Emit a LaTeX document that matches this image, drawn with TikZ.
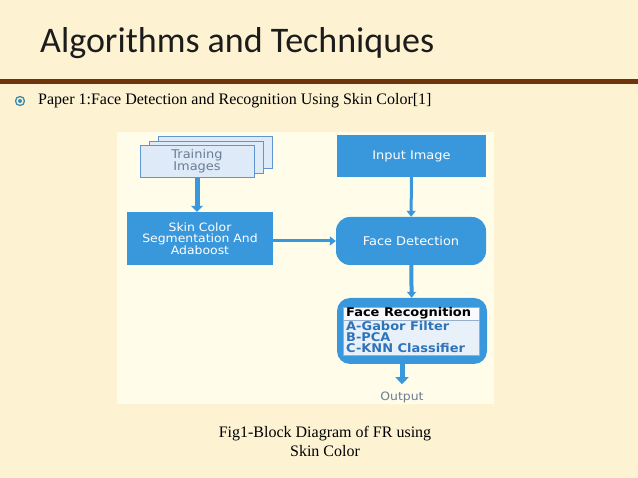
\documentclass[tikz,border=0pt]{standalone}
\usepackage{fontspec}
\setmainfont{Liberation Serif}
\newfontfamily\titlefont{Carlito}
\newfontfamily\diafont[FakeStretch=1.08]{DejaVu Sans}
\usepackage{tikz}
\usetikzlibrary{arrows.meta,positioning,calc}
\definecolor{slidebg}{RGB}{253,242,210}
\definecolor{panelbg}{RGB}{255,253,234}
\definecolor{boxblue}{RGB}{57,151,219}
\definecolor{pagefill}{RGB}{222,234,248}
\definecolor{pageline}{RGB}{95,150,210}
\definecolor{pagetext}{RGB}{105,125,150}
\definecolor{brownline}{RGB}{112,52,12}
\definecolor{titletext}{RGB}{28,28,28}
\definecolor{bulletc}{RGB}{60,140,175}
\definecolor{listblue}{RGB}{45,115,185}
\definecolor{innerfill}{RGB}{232,240,250}
\definecolor{innerline}{RGB}{150,175,205}

\begin{document}
\begin{tikzpicture}[x=1pt, y=-1pt]
\tikzstyle{box} = [rectangle, minimum width=150pt, minimum height=42pt, text centered, align=center, fill=boxblue, text=white, inner sep=0pt, font=\diafont\fontsize{12}{11}\selectfont]
\tikzstyle{page} = [rectangle, minimum width=114pt, minimum height=32pt, draw=pageline, fill=pagefill, line width=0.8pt, inner sep=0pt]
\tikzstyle{arrow} = [boxblue, line width=3pt, -{Triangle[width=9pt,length=6pt]}]

% slide and diagram panel
\fill[slidebg] (0,0) rectangle (638,478);
\useasboundingbox (0,0) rectangle (638,478);
\fill[brownline] (0,79.5) rectangle (638,84);
\fill[panelbg] (117,132) rectangle (494,404);

\node (title) [anchor=base west, inner sep=0pt, text=titletext, font=\titlefont\fontsize{36}{40}\selectfont] at (40,53) {Algorithms and Techniques};
\node (bullet) [circle, draw=bulletc, line width=1.3pt, minimum size=9pt, inner sep=0pt] at (20,101) {};
\node (bulletdot) [circle, fill=bulletc, minimum size=4pt, inner sep=0pt] at (bullet) {};
\node (paper) [anchor=base west, inner sep=0pt, font=\fontsize{16}{18}\selectfont] at (38,105) {Paper 1:Face Detection and Recognition Using Skin Color[1]};

% training images stack
\node (train3) [page] at (215,152) {};
\node (train2) [page] at (206,157) {};
\node (train) [page, align=center, text=pagetext, font=\diafont\fontsize{12}{11}\selectfont] at (197,161.5) {Training\\Images};

\node (skin) [box, minimum width=146pt, minimum height=53pt, font=\diafont\fontsize{11.5}{11}\selectfont] at (200,238.5) {Skin Color\\Segmentation And\\Adaboost};
\node (input) [box, minimum width=149pt] at (411.5,156) {Input Image};
\node (detect) [box, minimum height=48pt, rounded corners=14pt] at (411,241) {Face Detection};

% face recognition block
\node (recog) [box, minimum height=66pt, rounded corners=13pt] at (412,331) {};
\node (recogin) [rectangle, minimum width=136pt, minimum height=48pt, fill=innerfill, draw=innerline, line width=0.6pt, inner sep=0pt] at (411,331) {};
\node (recoghead) [rectangle, minimum width=136pt, minimum height=13pt, fill=white!70!innerfill, draw=innerline, line width=0.6pt, inner sep=0pt] at (411,313.5) {};
\node (headtext) [anchor=west, inner sep=0pt, font=\diafont\bfseries\fontsize{12}{11}\selectfont] at (346,313.5) {Face Recognition};
\node (recoglist) [anchor=north west, align=left, inner sep=0pt, text=listblue, font=\diafont\bfseries\fontsize{12}{11}\selectfont] at (346,321.5) {A-Gabor Filter\\B-PCA\\C-KNN Classifier};

\node (output) [inner sep=0pt, text=pagetext, font=\diafont\fontsize{11.5}{12}\selectfont] at (402,397) {Output};

\node (caption) [anchor=base, align=center, inner sep=0pt, font=\fontsize{16}{19}\selectfont] at (325,457) {Fig1-Block Diagram of FR using\\Skin Color};

\draw [arrow, line width=5pt, -{Triangle[width=12pt,length=6pt]}] (train.south) -- (train.south |- skin.north);
\draw [arrow] (input) -- (detect);
\draw [arrow] (skin.east |- detect.west) -- (detect.west);
\draw [arrow, line width=4pt] (detect) -- (recog);
\draw [arrow, line width=5pt, -{Triangle[width=13pt,length=7pt]}] (recog.south -| output) -- ++(0,20);
\end{tikzpicture}
\end{document}
